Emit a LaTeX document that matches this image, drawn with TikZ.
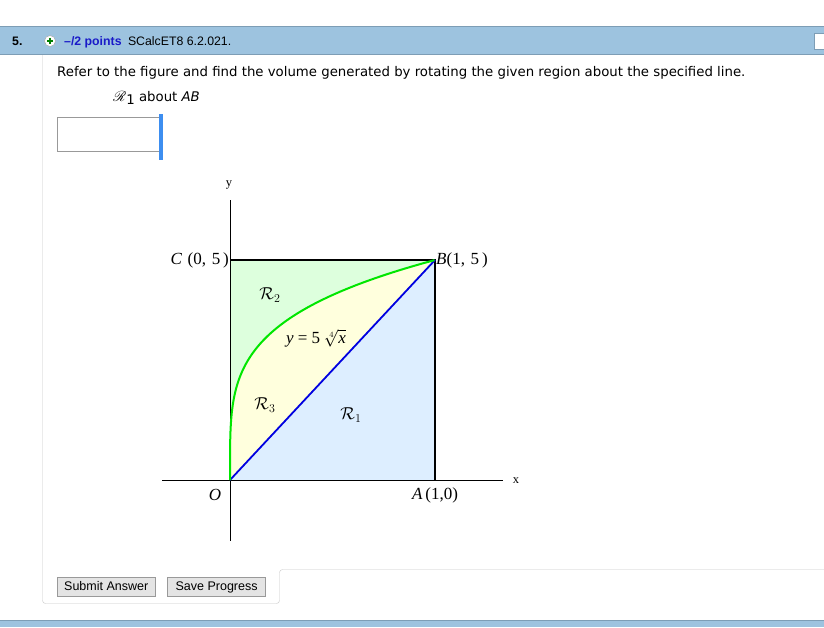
\documentclass[tikz,border=0pt]{standalone}
\usepackage{fontspec}
\usepackage{amsmath}
\usepackage{mathrsfs}
\setmainfont{Liberation Serif}
\newfontfamily\webfont{DejaVu Sans}
\newfontfamily\arialfont{Liberation Sans}
\usetikzlibrary{positioning}
\definecolor{bandblue}{HTML}{9DC3DF}
\definecolor{bandline}{HTML}{7D9DB5}
\definecolor{panelgrey}{HTML}{C8C8C8}
\definecolor{ptsblue}{HTML}{1A1AC8}
\definecolor{fillblue}{HTML}{DDEEFF}
\definecolor{fillgreen}{HTML}{DDFFDD}
\definecolor{fillyellow}{HTML}{FFFFDD}
\definecolor{curvegreen}{HTML}{00E600}
\definecolor{diagblue}{HTML}{0000E0}
\definecolor{barblue}{HTML}{3D8EF0}
\definecolor{btngrey}{HTML}{E4E4E4}

\begin{document}
\begin{tikzpicture}[x=1pt,y=-1pt,
    webtext/.style={font=\webfont\fontsize{13.3}{16}\selectfont, inner sep=0pt},
    btn/.style={draw=gray!80, fill=btngrey, font=\arialfont\fontsize{12.5}{14}\selectfont, inner sep=0pt, text height=10pt, text depth=2pt, minimum height=19pt, minimum width=98pt},
    lbl/.style={font=\fontsize{17}{19}\selectfont, inner sep=0pt},
    axlbl/.style={font=\fontsize{12.5}{14}\selectfont, inner sep=0pt}]
    \useasboundingbox[fill=white] (0,0) rectangle (824,627);

    % header band
    \fill[bandblue] (0,27) rectangle (824,55);
    \draw[bandline] (0,26.5) -- (824,26.5);
    \draw[bandline] (0,54.5) -- (824,54.5);
    \filldraw[fill=white, draw=bandline] (814.5,33.5) rectangle (826,49.5);
    \node[anchor=base west, inner sep=0pt, font=\arialfont\bfseries\fontsize{12.3}{14}\selectfont] (qnum) at (12,45.5) {5.};
    \node[circle, draw=gray!70, fill=white, minimum size=11pt, inner sep=0pt] (plus) at (50,41) {};
    \draw[green!50!black, line width=1.6pt] (plus.center) +(-3,0) -- +(3,0);
    \draw[green!50!black, line width=1.6pt] (plus.center) +(0,-3) -- +(0,3);
    \node[anchor=base west, inner sep=0pt, text=ptsblue, font=\arialfont\bfseries\fontsize{12.3}{14}\selectfont] (points) at (64,45.5) {–/2 points};
    \node[inner sep=0pt, font=\arialfont\fontsize{12.3}{14}\selectfont, right=6pt of points.base east, anchor=base west] (source) {SCalcET8 6.2.021.};

    % panel and bottom band
    \draw[panelgrey, rounded corners=3pt] (42.5,55) -- (42.5,603.5) -- (279.5,603.5) -- (279.5,569.5) -- (824,569.5);
    \fill[bandblue] (0,621) rectangle (824,627);
    \draw[bandline] (0,620.5) -- (824,620.5);

    % question
    \node[webtext, anchor=base west] (ask) at (57,76.5) {Refer to the figure and find the volume generated by rotating the given region about the specified line.};
    \node[webtext, anchor=base west] (part) at (113,101.5) {$\mathscr{R}$\raisebox{-0.25em}{1} about \textit{AB}};
    \node[draw=gray!80, anchor=north west, minimum width=102pt, minimum height=34pt, inner sep=0pt] (answer) at (57,117) {};
    \node[fill=barblue, anchor=north west, minimum width=4pt, minimum height=46pt, inner sep=0pt] (bar) at (159,114) {};

    % figure points
    \coordinate (O) at (230,480);
    \coordinate (A) at (435,480);
    \coordinate (B) at (435,260);
    \coordinate (C) at (230,260);
    \coordinate (xL) at (162,480);
    \coordinate (xR) at (503,480);
    \coordinate (yT) at (230,200);
    \coordinate (yB) at (230,541);

    % regions
    \fill[fillblue] (O) -- (A) -- (B) -- cycle;
    \fill[fillgreen] plot[domain=0:1, samples=80] ({230+205*\x*\x*\x*\x},{480-220*\x}) -- (C) -- cycle;
    \fill[fillyellow] plot[domain=0:1, samples=80] ({230+205*\x*\x*\x*\x},{480-220*\x}) -- cycle;

    % axes and edges
    \draw (xL) -- (xR);
    \draw (yT) -- (yB);
    \draw[line width=2pt] (C) -- (B) -- (A);
    \draw[diagblue, line width=1.8pt] (O) -- (B);
    \draw[curvegreen, line width=2pt] plot[domain=0:1, samples=80] ({230+205*\x*\x*\x*\x},{480-220*\x});

    % labels
    \node[axlbl] (xlbl) at (516,481) {x};
    \node[axlbl] (ylbl) at (229,185) {y};
    \node[lbl, left=1pt of C] (Clbl) {\textit{C}\,\,(0,\,\,5\,)};
    \node[lbl, right=1pt of B] (Blbl) {\textit{B}(1,\,\,5\,)};
    \node[lbl] (Olbl) at (215,495) {\textit{O}};
    \node[lbl] (Albl) at (435,495) {\textit{A}\,(1,0)};
    \node[lbl] (R2) at (270,295) {$\mathcal{R}_2$};
    \node[lbl] (curvelbl) at (316,338) {\textit{y} = 5 $\sqrt[4]{\textit{x}}$};
    \node[lbl] (R3) at (265,405) {$\mathcal{R}_3$};
    \node[lbl] (R1) at (351,415) {$\mathcal{R}_1$};

    % buttons
    \node[btn, anchor=north west] (submit) at (57,577) {Submit Answer};
    \node[btn, right=12pt of submit] (save) {Save Progress};
\end{tikzpicture}
\end{document}
